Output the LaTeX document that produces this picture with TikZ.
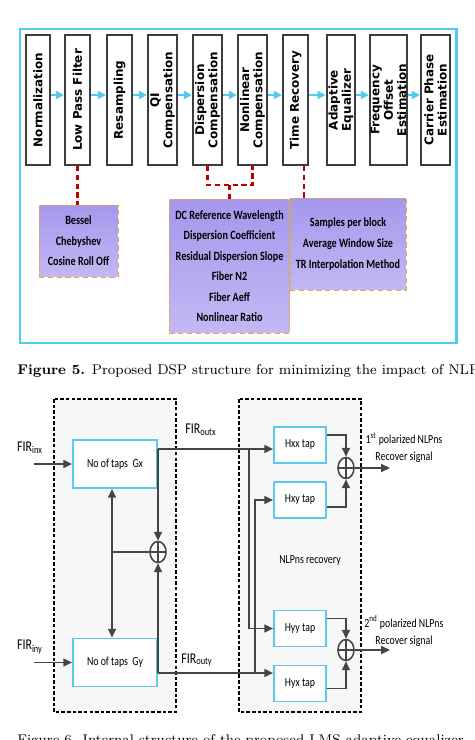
\documentclass[tikz,border=0pt]{standalone}
\usepackage{fontspec}
\usetikzlibrary{arrows.meta,shapes.geometric}
\newfontfamily\blockfont{DejaVu Sans}
\newfontfamily\narrowfont[FakeStretch=0.8]{Carlito}
\definecolor{cyanL}{HTML}{4FCBF0}
\definecolor{boxG}{HTML}{3C3C3C}
\definecolor{redD}{HTML}{C00000}
\definecolor{lavT}{HTML}{A597EC}
\definecolor{lavB}{HTML}{C3B8F4}
\definecolor{orgD}{HTML}{E5A93B}
\definecolor{lineG}{HTML}{424649}
\definecolor{tapC}{HTML}{5CC9EC}
\tikzset{
    PB/.style ={rectangle, draw=boxG, line width=1.3pt, fill=white, rotate=90, minimum width=2.6cm, inner sep=1pt, align=center, font=\blockfont\bfseries\fontsize{6.8}{7.6}\selectfont},
    PA/.style ={-{Triangle[length=4.5pt,width=4.5pt]}, cyanL, line width=1.4pt},
    RD/.style ={redD, line width=1.4pt, dash pattern=on 3pt off 2pt},
    LB/.style ={rectangle, draw=orgD, densely dashed, thin, top color=lavT, bottom color=lavB, align=center, font=\narrowfont\bfseries\fontsize{7.2}{11.7}\selectfont},
    DB/.style ={black, line width=1.1pt, dash pattern=on 2pt off 1.2pt, fill=gray!6},
    TB/.style ={rectangle, draw=tapC, line width=1pt, fill=white, text=black, font=\narrowfont\fontsize{7}{8}\selectfont},
    GB/.style ={TB, minimum width=1.68cm, minimum height=.96cm},
    HB/.style ={TB, minimum width=1.04cm, minimum height=.72cm},
    SUM/.style={ellipse, draw=lineG, line width=.9pt, fill=white, minimum width=.32cm, minimum height=.42cm, inner sep=0pt,
        path picture={\draw[lineG, line width=.8pt] (path picture bounding box.north) -- (path picture bounding box.south)
        (path picture bounding box.west) -- (path picture bounding box.east);}},
    LN/.style ={lineG, line width=.9pt},
    AR/.style ={LN, -{Triangle[length=5pt,width=4.5pt]}},
    TX/.style ={align=center, text=black, font=\narrowfont\fontsize{7}{9.6}\selectfont},
    FI/.style ={text=black, inner sep=0pt, font=\narrowfont\fontsize{8.5}{9}\selectfont},
    CP/.style ={anchor=base west, inner sep=0pt, font=\fontsize{8}{10}\selectfont}}

\begin{document}
\begin{tikzpicture}[x=0.02cm,y=-0.02cm]
        \useasboundingbox (0,0) rectangle (474,740);
        \clip (0,0) rectangle (474,740);
        \draw[cyanL, line width=1.7pt, fill=white] (20,29) rectangle (456,343);
        \node[PB, minimum height=.48cm] (norm) at (38,100) {Normalization};
        \node[PB, minimum height=.5cm] (lpf) at (77.5,100) {Low Pass Filter};
        \node[PB, minimum height=.5cm] (resa) at (119.5,100) {Resampling};
        \node[PB, minimum height=.58cm] (qi) at (162.5,100) {QI\\Compensation};
        \node[PB, minimum height=.58cm] (disp) at (207.5,100) {Dispersion\\Compensation};
        \node[PB, minimum height=.58cm] (nonl) at (252.5,100) {Nonlinear\\Compensation};
        \node[PB, minimum height=.5cm] (time) at (295.5,100) {Time Recovery};
        \node[PB, minimum height=.56cm] (adeq) at (341,100) {Adaptive\\Equalizer};
        \node[PB, minimum height=.74cm, inner sep=0pt] (freq) at (388.5,100) {Frequency\\Offset\\Estimation};
        \node[PB, minimum height=.58cm] (carr) at (435.5,100) {Carrier Phase\\Estimation};
        \node[LB, minimum width=1.58cm, minimum height=1.44cm] (bess) at (78.5,241) {Bessel\\Chebyshev\\Cosine Roll Off};
        \node[LB, minimum width=2.22cm, minimum height=2.68cm] (dcref) at (229.5,266) {DC Reference Wavelength\\Dispersion Coefficient\\Residual Dispersion Slope\\Fiber N2\\Fiber Aeff\\Nonlinear Ratio};
        \node[LB, minimum width=2.2cm, minimum height=1.84cm] (samp) at (348,244) {Samples per block\\Average Window Size\\TR Interpolation Method};
        \draw[PA] ([yshift=.1cm]norm.south) -- ([yshift=.1cm]lpf.north);
        \draw[PA] ([yshift=.1cm]lpf.south) -- ([yshift=.1cm]resa.north);
        \draw[PA] ([yshift=.1cm]resa.south) -- ([yshift=.1cm]qi.north);
        \draw[PA] ([yshift=.1cm]qi.south) -- ([yshift=.1cm]disp.north);
        \draw[PA] ([yshift=.1cm]disp.south) -- ([yshift=.1cm]nonl.north);
        \draw[PA] ([yshift=.1cm]nonl.south) -- ([yshift=.1cm]time.north);
        \draw[PA] ([yshift=.1cm]time.south) -- ([yshift=.1cm]adeq.north);
        \draw[PA] ([yshift=.1cm]adeq.south) -- ([yshift=.1cm]freq.north);
        \draw[PA] ([yshift=.1cm]freq.south) -- ([yshift=.1cm]carr.north);
        \coordinate (dj) at (229.5,185);
        \coordinate (tr) at ([xshift=.17cm]time.west);
        \draw[RD] (lpf.west) -- (lpf.west |- bess.north);
        \draw[RD] (disp.west) |- (dj) -| (nonl.west);
        \draw[RD] (dj) -- (dj |- dcref.north);
        \draw[RD] (tr) -- (tr |- samp.north);
        \node[CP] (cap5) at (17,374) {\textbf{Figure 5.} Proposed DSP structure for minimizing the impact of NLPns};
        \draw[DB] (54,399) rectangle (176,712);
        \draw[DB] (239,399) rectangle (361,712);
        \node[GB] (gx) at (115,464) {No of taps\ \ Gx};
        \node[GB] (gy) at (115,662.5) {No of taps\ \ Gy};
        \node[HB] (hxx) at (300,445) {Hxx tap};
        \node[HB] (hxy) at (300,500) {Hxy tap};
        \node[HB] (hyy) at (300,628.5) {Hyy tap};
        \node[HB] (hyx) at (300,683.5) {Hyx tap};
        \node[SUM] (s1) at (158,552) {};
        \node[SUM] (s2) at (346,468) {};
        \node[SUM] (s3) at (346,650) {};
        \node[FI] (finx) at (30,448) {FIR\textsubscript{inx}};
        \node[FI] (finy) at (30,647) {FIR\textsubscript{iny}};
        \node[FI] (foutx) at (201,430) {FIR\textsubscript{outx}};
        \node[FI] (fouty) at (197,660) {FIR\textsubscript{outy}};
        \node[TX] (rec) at (310,561) {NLPns recovery};
        \node[TX] (pol1) at (404,448) {1\textsuperscript{st} polarized NLPns\\Recover signal};
        \node[TX] (pol2) at (404,631) {2\textsuperscript{nd} polarized NLPns\\Recover signal};
        \coordinate (inx) at (34,464);
        \coordinate (iny) at (34,662.5);
        \coordinate (xo) at ([yshift=.3cm]gx.east);
        \coordinate (yo) at ([yshift=-.21cm]gy.east);
        \coordinate (fb) at (112,552);
        \coordinate (bx) at (249,449);
        \coordinate (by) at (255,673);
        \coordinate (o1) at (390,468);
        \coordinate (o2) at (390,650);
        \draw[AR] (inx) -- (gx);
        \draw[AR] (iny) -- (gy);
        \draw[AR] (xo) -- (xo -| hxx.west);
        \draw[AR] (xo -| s1) -- (s1);
        \draw[AR] (yo) -- (yo -| hyx.west);
        \draw[AR] (yo -| s1) -- (s1);
        \draw[LN] (s1) -- (fb);
        \draw[AR] (fb) -- (fb |- gx.south);
        \draw[AR] (fb) -- (fb |- gy.north);
        \draw[AR] (bx) |- (hyy);
        \draw[AR] (by) |- (hxy);
        \draw[AR] ([yshift=.2cm]hxx.east) -| (s2);
        \draw[AR] ([yshift=-.14cm]hxy.east) -| (s2);
        \draw[AR] ([yshift=.2cm]hyy.east) -| (s3);
        \draw[AR] ([yshift=-.1cm]hyx.east) -| (s3);
        \draw[AR] (s2) -- (o1);
        \draw[AR] (s3) -- (o2);
        \node[CP] (cap6) at (17,744) {Figure 6. Internal structure of the proposed LMS adaptive equalizer};
    \end{tikzpicture}
\end{document}
